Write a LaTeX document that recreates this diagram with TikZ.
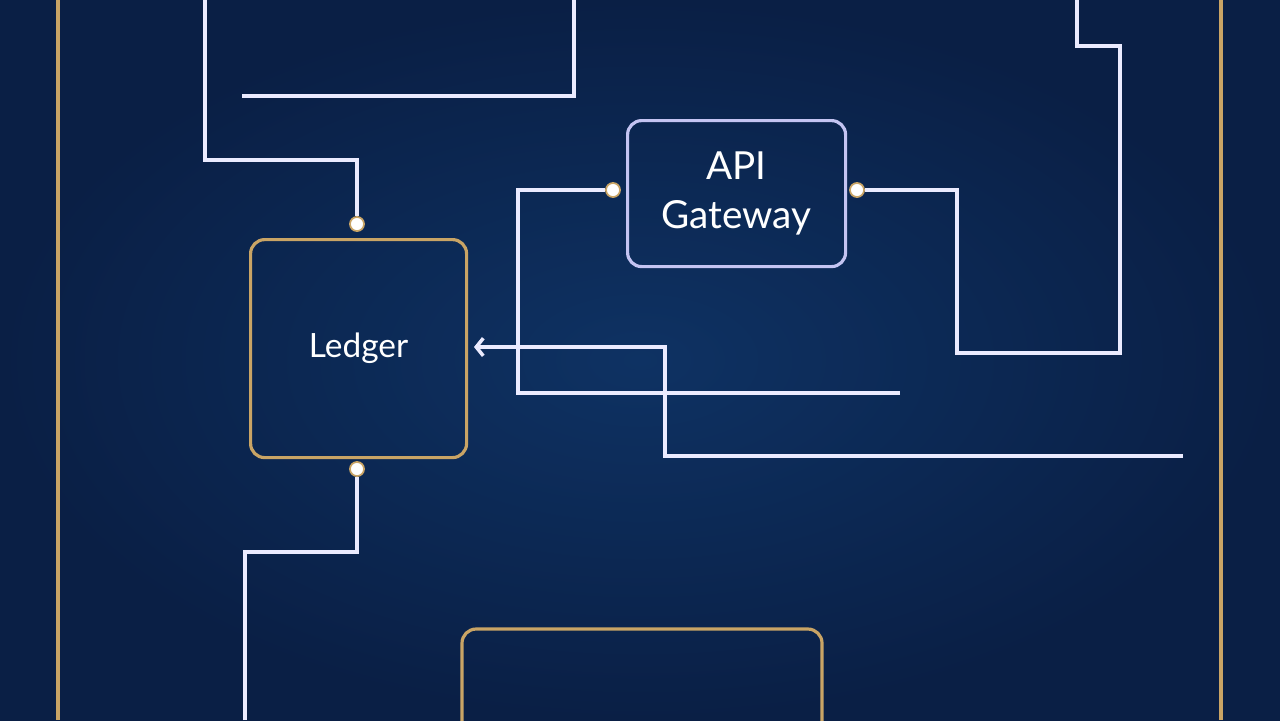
\documentclass[tikz,border=0pt]{standalone}
\usepackage{fontspec}
\setmainfont{Lato}
\usetikzlibrary{arrows.meta}
\begin{document}
\begin{tikzpicture}[x=0.01cm,y=-0.01cm,
  wire/.style={draw=white!92!blue,line width=1pt},
  goldbox/.style={draw=gold,line width=0.9pt,rounded corners=4pt},
  whitebox/.style={draw=white!80!blue!90!gray,line width=0.9pt,rounded corners=4pt},
  port/.style={circle,fill=white,draw=gold,line width=0.5pt,inner sep=0pt,minimum size=4pt}]
\definecolor{gold}{HTML}{C9A465}
\definecolor{navyA}{HTML}{0A1F45}
\definecolor{navyB}{HTML}{0E3263}
\useasboundingbox (0,0) rectangle (1280,720);
\shade[inner color=navyB,outer color=navyA] (0,0) rectangle (1280,720);
\draw[gold,line width=0.9pt] (58,0) -- (58,720);
\draw[gold,line width=0.9pt] (1221,0) -- (1221,720);
\node[goldbox,minimum width=216*0.01cm,minimum height=218*0.01cm,anchor=north west,text=white,font=\fontsize{9.5}{10}\selectfont] (ledger) at (249,238) {Ledger};
\node[whitebox,minimum width=218*0.01cm,minimum height=146*0.01cm,anchor=north west,text=white,align=center,font=\fontsize{11}{14}\selectfont] (api) at (626,119) {API\\Gateway};
\draw[goldbox] (462,730) |- (822,629) -- (822,730);
\coordinate (c1) at (205,0);
\node[port] (p1) at (357,224) {};
\draw[wire] (c1) |- (357,160) -- (p1);
\coordinate (c2a) at (242,96); \coordinate (c2b) at (574,0);
\draw[wire] (c2a) -| (c2b);
\coordinate (c3) at (1077,0);
\node[port] (p3) at (857,190) {};
\draw[wire] (c3) -- (1077,46) -| (1120,353) -| (957,190) -- (p3);
\coordinate (c4) at (900,393);
\node[port] (p4) at (613,190) {};
\draw[wire] (c4) -| (518,190) -- (p4);
\coordinate (c5) at (1183,456);
\coordinate (p5) at (474,347);
\draw[wire,-{Straight Barb[length=2pt,width=5pt]}] (c5) -| (665,347) -- (p5);
\coordinate (c6) at (245,720);
\node[port] (p6) at (357,469) {};
\draw[wire] (c6) |- (357,552) -- (p6);
\end{tikzpicture}
\end{document}
